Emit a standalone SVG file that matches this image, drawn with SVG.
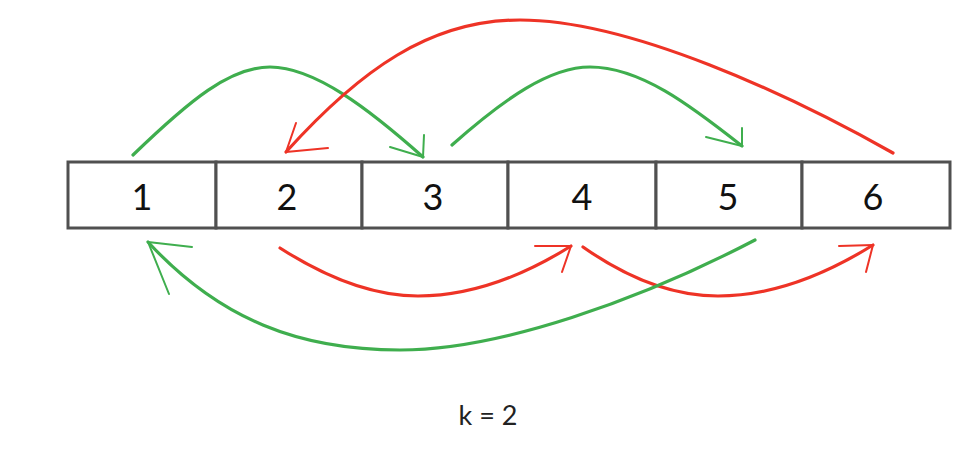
<svg xmlns="http://www.w3.org/2000/svg" width="974" height="452" viewBox="0 0 974 452">
<style>
.cell{fill:#fff;stroke:#505050;stroke-width:3}
.num{font-family:Lato,"Open Sans",sans-serif;font-size:36px;fill:#111;text-anchor:middle}
.g{fill:none;stroke:#3fae4e;stroke-width:3.2;stroke-linecap:round}
.r{fill:none;stroke:#ee3326;stroke-width:3.2;stroke-linecap:round}
.ga{fill:none;stroke:#3fae4e;stroke-width:2;stroke-linecap:round;stroke-linejoin:round}
.ra{fill:none;stroke:#ee3326;stroke-width:2;stroke-linecap:round;stroke-linejoin:round}
.lbl{font-family:Lato,"Open Sans",sans-serif;font-size:27px;fill:#222;text-anchor:middle}
</style>
<rect width="974" height="452" fill="#fff"/>
<g id="n1"><rect class="cell" x="68" y="162" width="148" height="66"/><text class="num" x="142" y="210">1</text></g>
<g id="n2"><rect class="cell" x="216" y="162" width="146" height="66"/><text class="num" x="287" y="210">2</text></g>
<g id="n3"><rect class="cell" x="362" y="162" width="146" height="66"/><text class="num" x="433" y="210">3</text></g>
<g id="n4"><rect class="cell" x="508" y="162" width="148" height="66"/><text class="num" x="582" y="210">4</text></g>
<g id="n5"><rect class="cell" x="656" y="162" width="146" height="66"/><text class="num" x="728" y="210">5</text></g>
<g id="n6"><rect class="cell" x="802" y="162" width="148" height="66"/><text class="num" x="873" y="210">6</text></g>
<g id="connectors">
<path class="g" d="M133,155 C190,100 230,67 270,67 C315,67 370,110 423,157"/>
<path class="ga" d="M390,147 L423,157 L424,135"/>
<path class="g" d="M452,145 C505,98 550,67 590,67 C640,67 690,105 742,146"/>
<path class="ga" d="M706,137 L742,146 L742,128"/>
<path class="r" d="M893,153 C790,95 630,20 520,20 C430,20 360,70 286,152"/>
<path class="ra" d="M296,123 L286,152 L328,148"/>
<path class="r" d="M280,248 C330,280 375,296 418,296 C470,296 520,278 571,246"/>
<path class="ra" d="M535,246 L571,246 L562,272"/>
<path class="r" d="M583,247 C630,280 675,296 718,296 C770,296 820,278 873,245"/>
<path class="ra" d="M839,246 L873,245 L866,272"/>
<path class="g" d="M755,240 C640,300 500,350 400,350 C300,350 220,320 148,242"/>
<path class="ga" d="M192,247 L148,242 L169,294"/>
</g>
<text class="lbl" x="488" y="425">k = 2</text>
</svg>
